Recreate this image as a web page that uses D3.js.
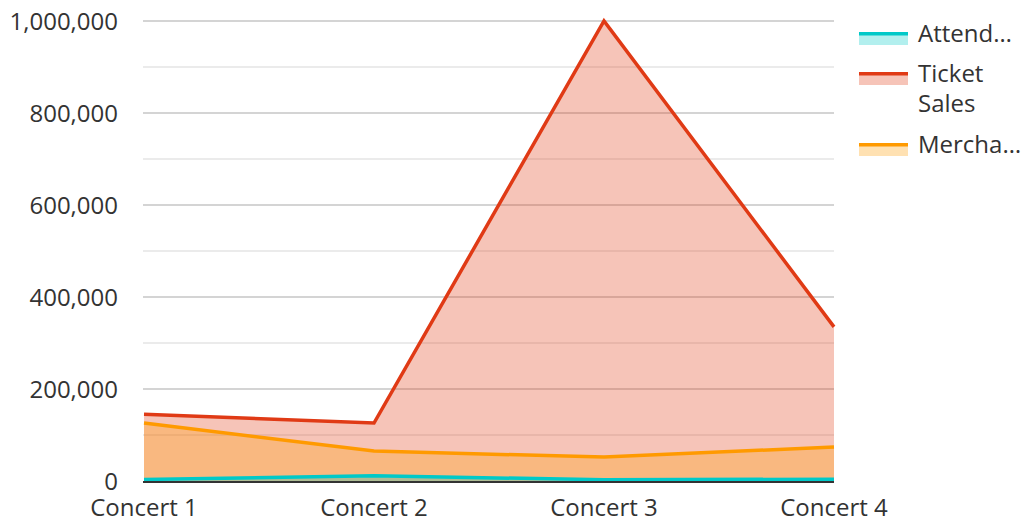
<!DOCTYPE html>
<html><head><meta charset="utf-8">
<script src="https://cdn.jsdelivr.net/npm/d3@7"></script>
<style>body{margin:0;background:#fff;} svg{display:block;font-family:"Open Sans",sans-serif;}</style>
</head><body>
<svg id="chart" width="1024" height="522"></svg>
<script>
const categories = ["Concert 1","Concert 2","Concert 3","Concert 4"];
const attendance = [3000, 11500, 2500, 4000];
const ticketSales = [145000, 126000, 1000000, 335000];
const merchandise = [126000, 65000, 52000, 74000];
const yTicks = [0,200000,400000,600000,800000,1000000];
const minorTicks = [100000,300000,500000,700000,900000];
const seriesNames = ["Attendance","Ticket Sales","Merchandise"];
const legendLabels = [["Attend…"],["Ticket","Sales"],["Mercha…"]];
const colors = ["#00c9c8","#e03a15","#ff9a00"];

const svg = d3.select("#chart");
const L=144, R=834, T=21, B=481;
const x = d3.scalePoint().domain(categories).range([L,R]);
const y = d3.scaleLinear().domain([0,1000000]).range([B,T]);
const fmt = d3.format(",");

// gridlines
svg.append("g").selectAll("line").data(minorTicks).join("line")
  .attr("x1",L-1).attr("x2",R).attr("y1",d=>y(d)).attr("y2",d=>y(d))
  .attr("stroke","#e4e4e4").attr("stroke-width",1.5);
svg.append("g").selectAll("line").data(yTicks.filter(d=>d>0)).join("line")
  .attr("x1",L-1).attr("x2",R).attr("y1",d=>y(d)).attr("y2",d=>y(d))
  .attr("stroke","#c6c6c6").attr("stroke-width",1.5);

const data = [attendance, ticketSales, merchandise];
const order = [1,2,0];
const area = d3.area().x((d,i)=>x(categories[i])).y0(y(0)).y1(d=>y(d));
const line = d3.line().x((d,i)=>x(categories[i])).y(d=>y(d));
order.forEach(k=>{
  svg.append("path").datum(data[k]).attr("d",area)
    .attr("fill",colors[k]).attr("fill-opacity",0.3);
});
order.forEach(k=>{
  svg.append("path").datum(data[k]).attr("d",line)
    .attr("fill","none").attr("stroke",colors[k]).attr("stroke-width",3.5)
    .attr("stroke-linejoin","miter");
});

// axis line
svg.append("line").attr("x1",L-1).attr("x2",R).attr("y1",B+1).attr("y2",B+1)
  .attr("stroke","#333").attr("stroke-width",2);

// y labels
svg.append("g").selectAll("text").data(yTicks).join("text")
  .attr("x",118).attr("y",d=>y(d)+8.5).attr("text-anchor","end")
  .attr("font-size",24).attr("fill","#333").text(d=>fmt(d));
// x labels
svg.append("g").selectAll("text").data(categories).join("text")
  .attr("x",d=>x(d)).attr("y",516).attr("text-anchor","middle")
  .attr("font-size",24).attr("fill","#333").text(d=>d);

// legend
const legY = [33, 73, 144];
const lg = svg.append("g");
seriesNames.forEach((n,i)=>{
  const g = lg.append("g");
  g.append("rect").attr("x",859).attr("y",legY[i]).attr("width",49).attr("height",12)
    .attr("fill",colors[i]).attr("fill-opacity",0.3);
  g.append("rect").attr("x",859).attr("y",legY[i]-1).attr("width",49).attr("height",3.5)
    .attr("fill",colors[i]);
  legendLabels[i].forEach((t,j)=>{
    g.append("text").attr("x",918).attr("y",legY[i]+8.5+j*30)
      .attr("font-size",24).attr("fill","#333").text(t);
  });
});
</script>
</body></html>
